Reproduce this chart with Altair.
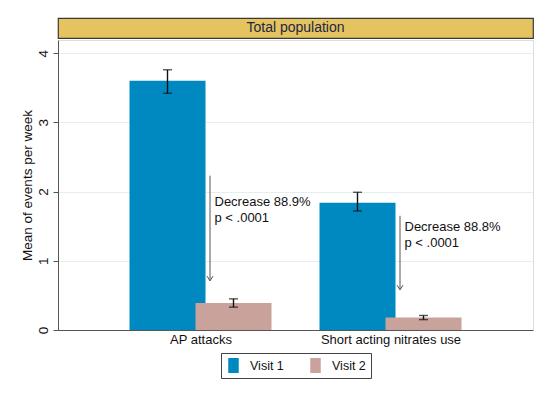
import altair as alt
import pandas as pd

categories = ["AP attacks", "Short acting nitrates use"]
visits = ["Visit 1", "Visit 2"]
# means and 95% CI bounds
mean_v1 = [3.60, 1.84]
lo_v1 = [3.42, 1.72]
hi_v1 = [3.76, 1.99]
mean_v2 = [0.39, 0.18]
lo_v2 = [0.33, 0.15]
hi_v2 = [0.45, 0.21]

arrow_start = [2.23, 1.65]
arrow_end = [0.71, 0.58]
label_top = [1.94, 1.58]
annot_line1 = ["Decrease 88.9%", "Decrease 88.8%"]
annot_line2 = ["p < .0001", "p < .0001"]

header_text = "Total population"
y_title = "Mean of events per week"
y_ticks = [0, 1, 2, 3, 4]

rows = []
for i, c in enumerate(categories):
    rows.append({"cat": c, "visit": visits[0], "mean": mean_v1[i], "lo": lo_v1[i], "hi": hi_v1[i]})
    rows.append({"cat": c, "visit": visits[1], "mean": mean_v2[i], "lo": lo_v2[i], "hi": hi_v2[i]})
df = pd.DataFrame(rows)

ann = pd.DataFrame({
    "cat": categories,
    "start": arrow_start,
    "end": arrow_end,
    "top": label_top,
    "txt": [[a, b] for a, b in zip(annot_line1, annot_line2)],
})

FONT = "Liberation Sans"
W, H = 475, 290
BLUE = "#0089C1"
PINK = "#C9A29B"

xenc = alt.X("cat:N", sort=categories,
             scale=alt.Scale(type="point", padding=0.75),
             axis=alt.Axis(title=None, labelAngle=0, ticks=False, labelPadding=3,
                           labelFontSize=13, labelColor="#111", labelFont=FONT,
                           domainColor="#555", grid=False))
yscale = alt.Scale(domain=[0, 4.19], nice=False)
yenc = alt.Y("mean:Q", scale=yscale,
             axis=alt.Axis(title=y_title, values=y_ticks, format="d", labelAngle=-90,
                           labelFontSize=13.5, labelFont=FONT, labelColor="#111",
                           titleFont=FONT, titleFontSize=13.5, titleFontWeight="normal",
                           titleColor="#111", titlePadding=2, labelPadding=3,
                           tickSize=5, tickColor="#555", domainColor="#555",
                           gridColor="#E3EEF2", gridWidth=1))
xoff = alt.XOffset("visit:N", sort=visits,
                   scale=alt.Scale(type="point", range=[-33, 33], padding=0))

base = alt.Chart(df)
bars = base.mark_bar(width=76).encode(
    x=xenc, y=yenc, xOffset=xoff,
    color=alt.Color("visit:N", sort=visits,
                    scale=alt.Scale(domain=visits, range=[BLUE, PINK]),
                    legend=alt.Legend(title=None, orient="none", direction="horizontal",
                                      legendX=163, legendY=335,
                                      symbolType="M-0.7,-1L0.7,-1L0.7,1L-0.7,1Z",
                                      symbolSize=225, symbolStrokeWidth=0,
                                      labelFont=FONT, labelFontSize=12.5, labelColor="#111",
                                      labelOffset=9, columnPadding=24,
                                      strokeColor="#444", padding=5)),
    order=alt.Order("visit:N"),
)
err = base.mark_rule(color="#111", strokeWidth=1.4).encode(
    x=alt.X("cat:N", sort=categories), xOffset=xoff,
    y=alt.Y("lo:Q", scale=yscale), y2="hi:Q")
cap_lo = base.mark_tick(color="#111", thickness=1.4, size=9).encode(
    x=alt.X("cat:N", sort=categories), xOffset=xoff, y=alt.Y("lo:Q", scale=yscale))
cap_hi = base.mark_tick(color="#111", thickness=1.4, size=9).encode(
    x=alt.X("cat:N", sort=categories), xOffset=xoff, y=alt.Y("hi:Q", scale=yscale))

abase = alt.Chart(ann)
arrow = abase.mark_rule(color="#555", strokeWidth=1, xOffset=9.5).encode(
    x=alt.X("cat:N", sort=categories), y=alt.Y("start:Q", scale=yscale), y2="end:Q")
head = abase.mark_point(shape="M-1,-1.6L0,0L1,-1.6", size=36, filled=False,
                        color="#555", strokeWidth=1, xOffset=9.5, opacity=1).encode(
    x=alt.X("cat:N", sort=categories), y=alt.Y("end:Q", scale=yscale))
txt = abase.mark_text(align="left", baseline="top", dx=14, fontSize=13, font=FONT,
                      color="#111", lineHeight=16).encode(
    x=alt.X("cat:N", sort=categories), y=alt.Y("top:Q", scale=yscale), text="txt")

main = alt.layer(bars, err, cap_lo, cap_hi, arrow, head, txt).properties(width=W, height=H)

header = alt.Chart(pd.DataFrame({"t": [header_text]})).mark_text(
    fontSize=14, font=FONT, color="#1c2746", baseline="middle").encode(
    text="t:N").properties(width=W, height=20,
                           view=alt.ViewBackground(fill="#E5C35F", stroke="#3a3a3a", strokeWidth=1.2))

chart = alt.vconcat(header, main, spacing=0).properties(
    padding={"left": 11, "top": 9, "right": 5, "bottom": 5}
).configure_view(strokeWidth=0).configure(background="white")

chart.save("out.html", embed_options={"renderer": "svg", "actions": False})
